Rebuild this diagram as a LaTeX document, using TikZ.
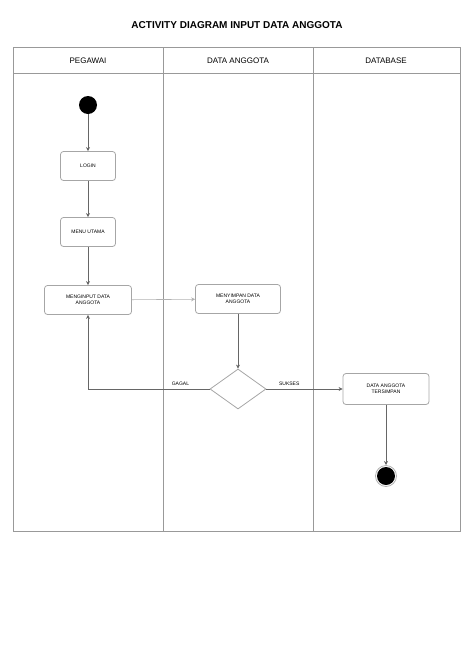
\documentclass[tikz,border=0pt]{standalone}
\usepackage{fontspec}
\setmainfont{Liberation Sans}
\usetikzlibrary{shapes.geometric, arrows.meta}

\tikzset{
    act/.style={draw=gray!70, rounded corners=3pt, minimum height=29pt, align=center, font=\fontsize{5}{6}\selectfont, line width=0.8pt},
    cond/.style={draw=gray!70, diamond, minimum width=56pt, minimum height=40pt, inner sep=0pt, line width=0.8pt},
    flow/.style={-{Stealth[length=4pt,width=4pt]}, gray!80!black, line width=0.6pt},
    lane/.style={draw=gray!80, line width=0.8pt},
    head/.style={font=\fontsize{8}{10}\selectfont},
    guard/.style={font=\fontsize{5}{6}\selectfont, text=black}
}

\begin{document}
\begin{tikzpicture}[x=1pt, y=-1pt]
        \useasboundingbox (0,0) rectangle (474,670);

        \node[font=\bfseries\fontsize{10}{12}\selectfont] (title) at (237,25) {ACTIVITY DIAGRAM INPUT DATA ANGGOTA};

        % swimlanes
        \draw[lane] (13,47) rectangle (460,531);
        \draw[lane] (13,73) -- (460,73);
        \draw[lane] (163,47) -- (163,531);
        \draw[lane] (313,47) -- (313,531);
        \node[head] (pegawai) at (88,61) {PEGAWAI};
        \node[head] (data) at (238,61) {DATA ANGGOTA};
        \node[head] (db) at (386,61) {DATABASE};

        \fill[black] (88,105) circle (9pt);
        \coordinate (start) at (88,114);

        \node[act, minimum width=55pt] (login) at (88,166) {LOGIN};
        \node[act, minimum width=55pt] (menu) at (88,232) {MENU UTAMA};
        \node[act, minimum width=87pt] (input) at (88,300) {MENGINPUT DATA\\ANGGOTA};
        \node[act, minimum width=85pt] (simpan) at (238,299) {MENYIMPAN DATA\\ANGGOTA};
        \node[cond] (cek) at (238,389) {};
        \node[act, minimum width=86pt, minimum height=31pt] (tersimpan) at (386,389) {DATA ANGGOTA\\TERSIMPAN};

        \fill[black] (386,476) circle (9pt);
        \draw[gray!60, line width=0.8pt] (386,476) circle (10.5pt);
        \coordinate (finish) at (386,465);

        \draw[flow] (start) -- (login);
        \draw[flow] (login) -- (menu);
        \draw[flow] (menu) -- (input);
        \draw[flow, gray!60] (input) -- (simpan);
        \draw[flow] (simpan) -- (cek);
        \draw[flow] (cek.west) -| (input.south) node[pos=0.12, above, guard] {GAGAL};
        \draw[flow] (cek.east) -- (tersimpan.west) node[pos=0.3, above, guard] {SUKSES};
        \draw[flow, line width=0.9pt] (tersimpan) -- (finish);
\end{tikzpicture}
\end{document}
